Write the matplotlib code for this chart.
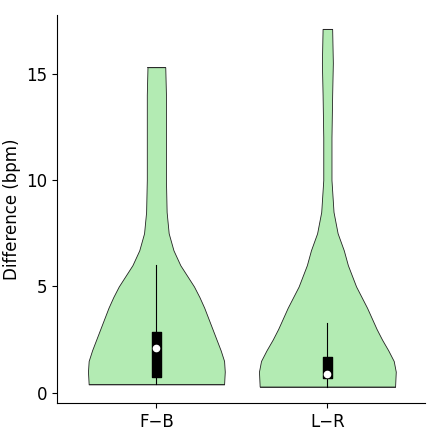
import numpy as np
import matplotlib.pyplot as plt

groups = ['F\u2212B', 'L\u2212R']

# violin outline: value -> relative half-width
fb_vals = [0.4, 1, 1.5, 2, 2.5, 3, 3.5, 4, 4.5, 5, 5.5, 6, 6.7, 7.5, 8.5, 10, 12, 14, 15.3]
fb_width = [0.99, 1.0, 0.99, 0.94, 0.88, 0.82, 0.76, 0.7, 0.63, 0.55, 0.45, 0.35, 0.25, 0.18, 0.15, 0.14, 0.14, 0.14, 0.13]
lr_vals = [0.3, 1, 1.5, 2, 2.5, 3, 3.5, 4, 4.5, 5, 6, 6.7, 7.5, 8.5, 10, 12, 14, 15.5, 17.1]
lr_width = [0.99, 1.0, 0.97, 0.89, 0.8, 0.72, 0.65, 0.58, 0.5, 0.42, 0.3, 0.24, 0.15, 0.09, 0.06, 0.06, 0.07, 0.08, 0.07]

# box stats: whisker low, q1, median, q3, whisker high
fb_box = [0.4, 0.75, 2.1, 2.85, 6.0]
lr_box = [0.3, 0.7, 0.9, 1.7, 3.3]

fig = plt.figure(figsize=(4.3, 4.3), dpi=100)
ax = fig.add_axes([0.133, 0.063, 0.855, 0.902])

for i, (v, w, b) in enumerate([(fb_vals, fb_width, fb_box), (lr_vals, lr_width, lr_box)]):
    x = i + 1
    hw = np.array(w) * 0.40
    ax.fill_betweenx(v, x - hw, x + hw, facecolor='#b3ebb3', edgecolor='#222222', linewidth=0.6)
    ax.plot([x - hw[0], x + hw[0]], [v[0], v[0]], color='#222222', lw=0.6)
    ax.plot([x - hw[-1], x + hw[-1]], [v[-1], v[-1]], color='#222222', lw=0.6)
    ax.plot([x, x], [b[0], b[4]], color='black', lw=0.8)
    ax.fill_between([x - 0.027, x + 0.027], b[1], b[3], color='black')
    ax.plot(x, b[2], 'o', color='white', ms=4.5)

ax.set_xlim(0.42, 2.57)
ax.set_ylim(-0.47, 17.75)
ax.set_xticks([1, 2])
ax.set_xticklabels(groups)
ax.set_yticks([0, 5, 10, 15])
ax.tick_params(labelsize=12, colors='black')
ax.set_ylabel('Difference (bpm)', fontsize=12)
ax.spines['top'].set_visible(False)
ax.spines['right'].set_visible(False)
fig.savefig('out.png', dpi=100)
